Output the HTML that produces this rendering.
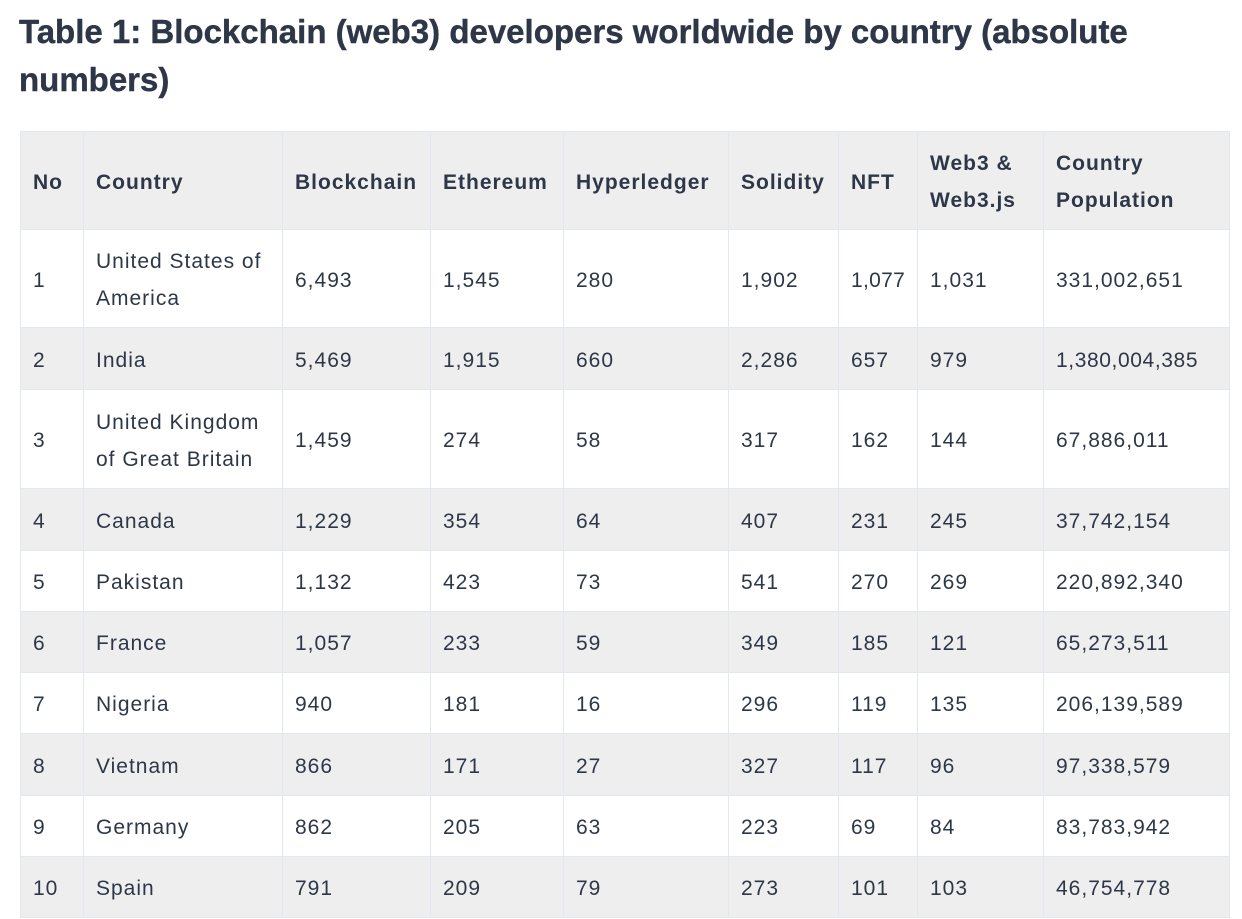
<!DOCTYPE html>
<html><head><meta charset="utf-8"><style>
body{margin:0;background:#fff;width:1242px;height:919px;overflow:hidden;font-family:"Liberation Sans",sans-serif;color:#2d3748}
h1{position:absolute;left:19px;top:8px;margin:0;font-size:33px;line-height:48px;font-weight:bold;letter-spacing:0;color:#2d3748;width:1220px;white-space:nowrap;-webkit-text-stroke:0.4px #2d3748}
table{position:absolute;left:20px;top:131px;border-collapse:collapse;table-layout:fixed;width:1209px}
td,th{border:1px solid #e2e8f0;padding:3px 0 0 12px;font-size:21px;letter-spacing:1px;line-height:37px;text-align:left;vertical-align:middle;color:#2d3748}
th{font-weight:bold;background:#eeeeee;height:94px;letter-spacing:1px}
tr.g td{background:#eeeeee}
</style></head><body>
<h1>Table 1: Blockchain (web3) developers worldwide by country (absolute<br>numbers)</h1>
<table>
<colgroup><col style="width:63px"><col style="width:199px"><col style="width:148px"><col style="width:133px"><col style="width:165px"><col style="width:110px"><col style="width:79px"><col style="width:126px"><col style="width:186px"></colgroup>
<tr><th>No</th><th>Country</th><th>Blockchain</th><th>Ethereum</th><th>Hyperledger</th><th>Solidity</th><th>NFT</th><th>Web3 &amp;<br>Web3.js</th><th>Country<br>Population</th></tr>
<tr style="height:98px"><td>1</td><td>United States of<br>America</td><td>6,493</td><td>1,545</td><td>280</td><td>1,902</td><td style="letter-spacing:0.3px">1,077</td><td>1,031</td><td>331,002,651</td></tr>
<tr class="g" style="height:62px"><td>2</td><td>India</td><td>5,469</td><td>1,915</td><td>660</td><td>2,286</td><td>657</td><td>979</td><td style="letter-spacing:0.6px">1,380,004,385</td></tr>
<tr style="height:99px"><td>3</td><td>United Kingdom<br>of Great Britain</td><td>1,459</td><td>274</td><td>58</td><td>317</td><td>162</td><td>144</td><td>67,886,011</td></tr>
<tr class="g" style="height:62px"><td>4</td><td>Canada</td><td>1,229</td><td>354</td><td>64</td><td>407</td><td>231</td><td>245</td><td>37,742,154</td></tr>
<tr style="height:61px"><td>5</td><td>Pakistan</td><td>1,132</td><td>423</td><td>73</td><td>541</td><td>270</td><td>269</td><td>220,892,340</td></tr>
<tr class="g" style="height:61px"><td>6</td><td>France</td><td>1,057</td><td>233</td><td>59</td><td>349</td><td>185</td><td>121</td><td>65,273,511</td></tr>
<tr style="height:61px"><td>7</td><td>Nigeria</td><td>940</td><td>181</td><td>16</td><td>296</td><td>119</td><td>135</td><td>206,139,589</td></tr>
<tr class="g" style="height:62px"><td>8</td><td>Vietnam</td><td>866</td><td>171</td><td>27</td><td>327</td><td>117</td><td>96</td><td>97,338,579</td></tr>
<tr style="height:61px"><td>9</td><td>Germany</td><td>862</td><td>205</td><td>63</td><td>223</td><td>69</td><td>84</td><td>83,783,942</td></tr>
<tr class="g" style="height:61px"><td>10</td><td>Spain</td><td>791</td><td>209</td><td>79</td><td>273</td><td>101</td><td>103</td><td>46,754,778</td></tr>
</table>
</body></html>
